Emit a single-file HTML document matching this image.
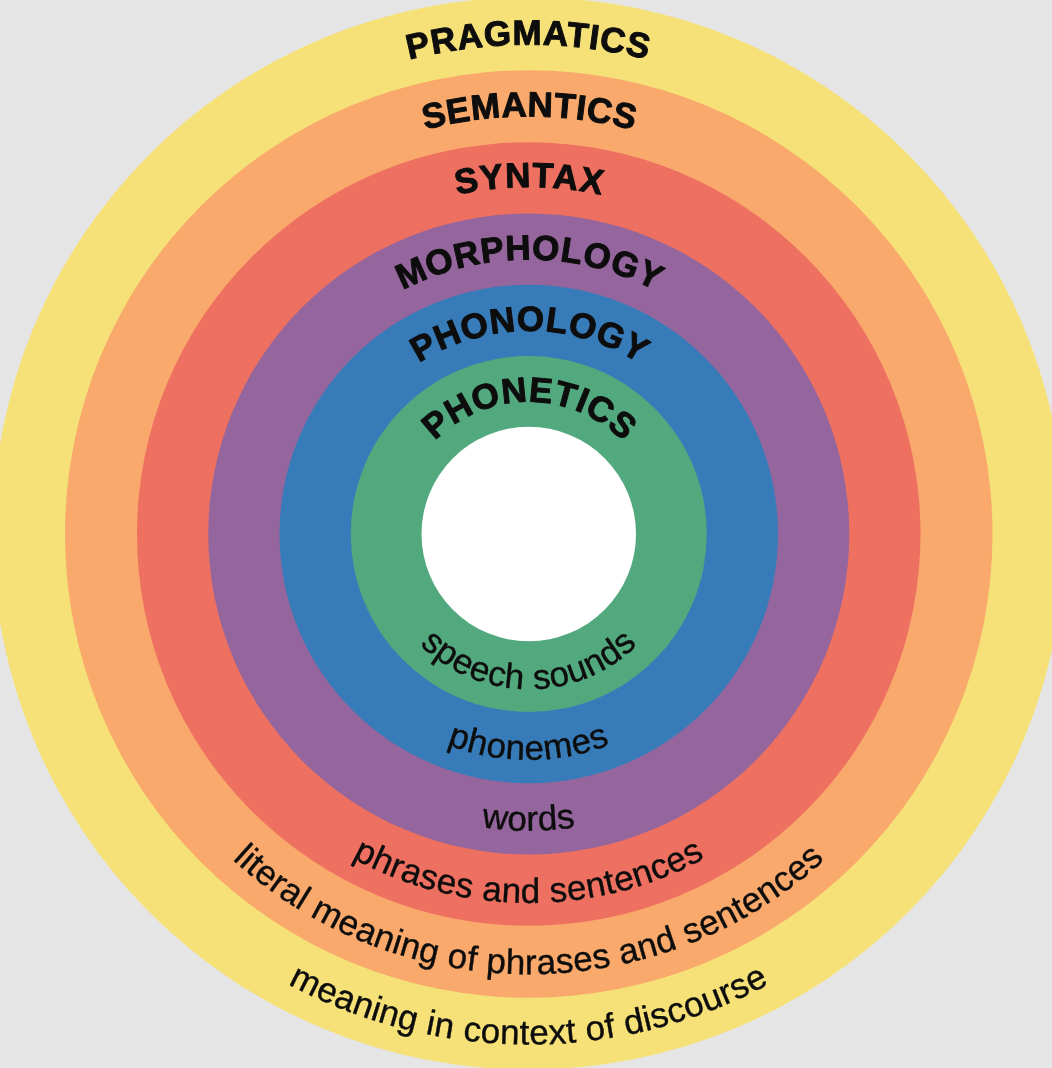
<!DOCTYPE html>
<html><head><meta charset="utf-8"><title>Levels of linguistic structure</title>
<style>
html,body{margin:0;padding:0;background:#e5e5e5;}
body{width:1052px;height:1068px;overflow:hidden;position:relative;}
svg{display:block;position:absolute;left:-20px;top:-20px;filter:blur(0.6px);}
text{font-family:"Liberation Sans",sans-serif;fill:#0d0d0d;}
.t{font-weight:bold;stroke:#0d0d0d;stroke-width:1.0;stroke-linejoin:round;}
.b{stroke:#0d0d0d;stroke-width:0.4;stroke-linejoin:round;}
</style></head><body>
<svg width="1092" height="1108" viewBox="-20 -20 1092 1108">
<rect x="-20" y="-20" width="1092" height="1108" fill="#e5e5e5"/>
<circle cx="528.75" cy="533.3" r="536.2" fill="#f6e178"/>
<circle cx="528.75" cy="534.0" r="463.75" fill="#f8a96b"/>
<circle cx="528.75" cy="534.0" r="391.75" fill="#ee7060"/>
<circle cx="528.75" cy="534.0" r="320.5" fill="#95669d"/>
<circle cx="528.75" cy="534.0" r="249.25" fill="#377cb9"/>
<circle cx="528.75" cy="534.0" r="178.0" fill="#53a97e"/>
<circle cx="528.75" cy="534.0" r="107.25" fill="#ffffff"/>
<defs>
<path id="tp0" d="M 528.75 1023.20 A 489.2 489.2 0 0 1 528.75 44.80 A 489.2 489.2 0 0 1 528.75 1023.20"/>
<path id="tp1" d="M 528.75 951.50 A 417.5 417.5 0 0 1 528.75 116.50 A 417.5 417.5 0 0 1 528.75 951.50"/>
<path id="tp2" d="M 528.75 880.80 A 346.8 346.8 0 0 1 528.75 187.20 A 346.8 346.8 0 0 1 528.75 880.80"/>
<path id="tp3" d="M 528.75 808.50 A 274.5 274.5 0 0 1 528.75 259.50 A 274.5 274.5 0 0 1 528.75 808.50"/>
<path id="tp4" d="M 528.75 737.20 A 203.2 203.2 0 0 1 528.75 330.80 A 203.2 203.2 0 0 1 528.75 737.20"/>
<path id="tp5" d="M 528.75 666.20 A 132.2 132.2 0 0 1 528.75 401.80 A 132.2 132.2 0 0 1 528.75 666.20"/>
<path id="bp0" d="M 528.75 378.70 A 155.3 155.3 0 0 0 528.75 689.30 A 155.3 155.3 0 0 0 528.75 378.70"/>
<path id="bp1" d="M 528.75 308.10 A 225.9 225.9 0 0 0 528.75 759.90 A 225.9 225.9 0 0 0 528.75 308.10"/>
<path id="bp2" d="M 528.75 237.20 A 296.8 296.8 0 0 0 528.75 830.80 A 296.8 296.8 0 0 0 528.75 237.20"/>
<path id="bp3" d="M 528.75 165.00 A 369.0 369.0 0 0 0 528.75 903.00 A 369.0 369.0 0 0 0 528.75 165.00"/>
<path id="bp4" d="M 528.75 93.70 A 440.3 440.3 0 0 0 528.75 974.30 A 440.3 440.3 0 0 0 528.75 93.70"/>
<path id="bp5" d="M 528.75 23.50 A 510.5 510.5 0 0 0 528.75 1044.50 A 510.5 510.5 0 0 0 528.75 23.50"/>
</defs>
<g transform="rotate(-0.03 528.75 534.0)"><text class="t" font-size="35" letter-spacing="0.85" text-anchor="middle"><textPath href="#tp0" startOffset="50%">PRAGMATICS</textPath></text></g>
<g transform="rotate(0.12 528.75 534.0)"><text class="t" font-size="35" letter-spacing="0.6" text-anchor="middle"><textPath href="#tp1" startOffset="50%">SEMANTICS</textPath></text></g>
<g transform="rotate(0.15 528.75 534.0)"><text class="t" font-size="35" letter-spacing="1.2" text-anchor="middle"><textPath href="#tp2" startOffset="50%">SYNTAX</textPath></text></g>
<g transform="rotate(0.2 528.75 534.0)"><text class="t" font-size="35" letter-spacing="0.7" text-anchor="middle"><textPath href="#tp3" startOffset="50%">MORPHOLOGY</textPath></text></g>
<g transform="rotate(0.3 528.75 534.0)"><text class="t" font-size="35" letter-spacing="0.7" text-anchor="middle"><textPath href="#tp4" startOffset="50%">PHONOLOGY</textPath></text></g>
<g transform="rotate(0.4 528.75 534.0)"><text class="t" font-size="35" letter-spacing="0.7" text-anchor="middle"><textPath href="#tp5" startOffset="50%">PHONETICS</textPath></text></g>
<g transform="rotate(0 528.75 534.0)"><text class="b" font-size="35" letter-spacing="0.5" text-anchor="middle"><textPath href="#bp0" startOffset="50%">speech sounds</textPath></text></g>
<g transform="rotate(0 528.75 534.0)"><text class="b" font-size="35" letter-spacing="0.5" text-anchor="middle"><textPath href="#bp1" startOffset="50%">phonemes</textPath></text></g>
<g transform="rotate(0 528.75 534.0)"><text class="b" font-size="35" letter-spacing="0.3" text-anchor="middle"><textPath href="#bp2" startOffset="50%">words</textPath></text></g>
<g transform="rotate(0 528.75 534.0)"><text class="b" font-size="35" letter-spacing="0.3" text-anchor="middle"><textPath href="#bp3" startOffset="50%">phrases and sentences</textPath></text></g>
<g transform="rotate(0 528.75 534.0)"><text class="b" font-size="35" letter-spacing="0.3" text-anchor="middle"><textPath href="#bp4" startOffset="50%">literal meaning of phrases and sentences</textPath></text></g>
<g transform="rotate(0 528.75 534.0)"><text class="b" font-size="35" letter-spacing="0.3" text-anchor="middle"><textPath href="#bp5" startOffset="50%">meaning in context of discourse</textPath></text></g>
</svg></body></html>
